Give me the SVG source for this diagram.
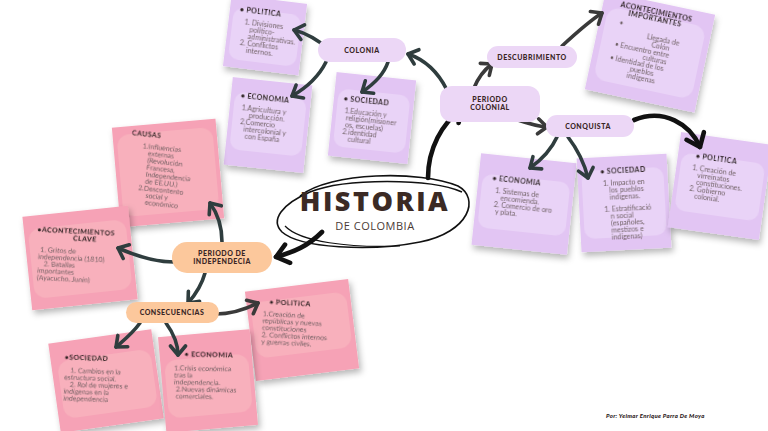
<svg xmlns="http://www.w3.org/2000/svg" width="768" height="431" viewBox="0 0 768 431">
<defs>
<filter id="sh" x="-30%" y="-30%" width="160%" height="160%"><feDropShadow dx="2" dy="4" stdDeviation="3" flood-color="#000" flood-opacity="0.28"/></filter>
<marker id="ag" markerUnits="userSpaceOnUse" markerWidth="20" markerHeight="20" refX="12" refY="10" orient="auto"><path d="M3,2.5 L12,10 L3,17.5" fill="none" stroke="#2f3d3e" stroke-width="3.6" stroke-linecap="round" stroke-linejoin="round"/></marker>
<marker id="ab" markerUnits="userSpaceOnUse" markerWidth="24" markerHeight="24" refX="15" refY="12" orient="auto"><path d="M3,2.5 L15,12 L3,21.5" fill="none" stroke="#111" stroke-width="4.6" stroke-linecap="round" stroke-linejoin="round"/></marker>
<marker id="ad" markerUnits="userSpaceOnUse" markerWidth="20" markerHeight="20" refX="12" refY="10" orient="auto"><path d="M3,2.5 L12,10 L3,17.5" fill="none" stroke="#3a3a3a" stroke-width="3.6" stroke-linecap="round" stroke-linejoin="round"/></marker>
</defs>
<style>
.np{fill:#e2c5f3}.ni{fill:#e9d3f7}
.nk{fill:#f6a2b6}.nki{fill:#f8b0bc}
.pp{fill:#ecd7f6}.po{fill:#fcc89c}
.h{font-family:"Lato","DejaVu Sans",sans-serif;font-weight:900;font-size:7px;fill:#2e2222;letter-spacing:0.4px}
.b{font-family:"Lato","DejaVu Sans",sans-serif;font-size:7px;fill:#6b5c5e}
.pl{font-family:"Lato","DejaVu Sans",sans-serif;font-weight:900;font-size:7px;fill:#3a2626;letter-spacing:0.5px;text-anchor:middle}
.c{fill:none;stroke:#2f3d3e;stroke-width:3.6;stroke-linecap:round}
.cb{fill:none;stroke:#111;stroke-width:4.6;stroke-linecap:round}
.cd{fill:none;stroke:#3a3a3a;stroke-width:3.6;stroke-linecap:round}
</style>
<rect width="768" height="431" fill="#ffffff"/>

<g id="note-politica-colonia" transform="translate(265,35) rotate(7)" filter="url(#sh)">
<rect class="np" x="-38" y="-36" width="76" height="72"/><rect class="ni" x="-34" y="-24" width="68" height="52" rx="10"/>
<text class="h" x="-28" y="-20">• POLITICA</text>
<text class="b" x="-22" y="-8">1. Divisiones</text><text class="b" x="-16" y="-1">político-</text><text class="b" x="-17" y="6">administrativas.</text><text class="b" x="-24" y="13">2. Conflictos</text><text class="b" x="-17" y="20">internos.</text>
</g>

<g id="note-economia-colonia" transform="translate(268,125) rotate(6)" filter="url(#sh)">
<rect class="np" x="-40" y="-44" width="80" height="88"/><rect class="ni" x="-36" y="-30" width="72" height="58" rx="10"/>
<text class="h" x="-30" y="-24">• ECONOMIA</text>
<text class="b" x="-28" y="-12">1.Agricultura y</text><text class="b" x="-20" y="-5">producción.</text><text class="b" x="-28" y="2">2.Comercio</text><text class="b" x="-24" y="9">intercolonial y</text><text class="b" x="-22" y="16">con España</text>
</g>

<g id="note-sociedad-colonia" transform="translate(372,118) rotate(6)" filter="url(#sh)">
<rect class="np" x="-40" y="-42" width="80" height="84"/><rect class="ni" x="-36" y="-26" width="72" height="58" rx="10"/>
<text class="h" x="-30" y="-14">• SOCIEDAD</text>
<text class="b" x="-28" y="-2">1.Educación y</text><text class="b" x="-26" y="5">religión(misioner</text><text class="b" x="-26" y="12">os, escuelas)</text><text class="b" x="-28" y="19">2.identidad</text><text class="b" x="-22" y="26">cultural</text>
</g>

<g id="note-acontecimientos-importantes" transform="translate(650,52) rotate(12)" filter="url(#sh)">
<rect class="np" x="-56" y="-50" width="112" height="100"/><rect class="ni" x="-50" y="-36" width="100" height="74" rx="12"/>
<text class="h" x="-2" y="-38" text-anchor="middle">ACONTECIMIENTOS</text><text class="h" x="-2" y="-31" text-anchor="middle">IMPORTANTES</text>
<text class="b" x="-36" y="-20">•</text><text class="b" x="-6" y="-12">Llegada de</text><text class="b" x="0" y="-5">Colón</text>
<text class="b" x="-36" y="2">• Encuentro entre</text><text class="b" x="-6" y="9">culturas</text>
<text class="b" x="-38" y="16">• Identidad de los</text><text class="b" x="-16" y="23">pueblos</text><text class="b" x="-18" y="30">indígenas</text>
</g>

<g id="note-economia-conquista" transform="translate(524,204) rotate(6)" filter="url(#sh)">
<rect class="np" x="-48" y="-46" width="96" height="92"/><rect class="ni" x="-44" y="-26" width="88" height="54" rx="10"/>
<text class="h" x="-34" y="-20">• ECONOMIA</text>
<text class="b" x="-30" y="-8">1. Sistemas de</text><text class="b" x="-24" y="-1">encomienda.</text><text class="b" x="-30" y="6">2. Comercio de oro</text><text class="b" x="-28" y="13">y plata.</text>
</g>

<g id="note-sociedad-conquista" transform="translate(624,203) rotate(-3)" filter="url(#sh)">
<rect class="np" x="-45" y="-47" width="90" height="94"/><rect class="ni" x="-41" y="-34" width="82" height="68" rx="10"/>
<text class="h" x="-22" y="-30">• SOCIEDAD</text>
<text class="b" x="-20" y="-18">1. Impacto en</text><text class="b" x="-14" y="-11">los pueblos</text><text class="b" x="-14" y="-4">indígenas.</text>
<text class="b" x="-20" y="8">1. Estratificació</text><text class="b" x="-14" y="15">n social</text><text class="b" x="-14" y="22">(españoles,</text><text class="b" x="-14" y="29">mestizos e</text><text class="b" x="-14" y="36">indígenas)</text>
</g>

<g id="note-politica-conquista" transform="translate(720,186) rotate(8)" filter="url(#sh)">
<rect class="np" x="-46" y="-48" width="92" height="96"/><rect class="ni" x="-42" y="-28" width="84" height="58" rx="10"/>
<text class="h" x="-28" y="-24">• POLITICA</text>
<text class="b" x="-30" y="-12">1. Creación de</text><text class="b" x="-24" y="-5">virreinatos</text><text class="b" x="-24" y="2">constituciones.</text><text class="b" x="-30" y="9">2. Gobierno</text><text class="b" x="-24" y="16">colonial.</text>
</g>

<g id="note-causas" transform="translate(168,173) rotate(-5)" filter="url(#sh)">
<rect class="nk" x="-52" y="-50" width="104" height="100"/><rect class="nki" x="-48" y="-42" width="96" height="82" rx="12"/>
<g transform="rotate(11)">
<text class="h" x="-40" y="-34">CAUSAS</text>
<text class="b" x="-28" y="-22">1.Influencias</text><text class="b" x="-22" y="-15">externas</text><text class="b" x="-22" y="-8">(Revolución</text><text class="b" x="-22" y="-1">Francesa,</text><text class="b" x="-22" y="6">Independencia</text><text class="b" x="-22" y="13">de EE.UU.)</text><text class="b" x="-28" y="20">2.Descontento</text><text class="b" x="-20" y="27">social y</text><text class="b" x="-20" y="34">económico</text>
</g>
</g>

<g id="note-acontecimientos-clave" transform="translate(80,258) rotate(-6)" filter="url(#sh)">
<rect class="nk" x="-53" y="-47" width="106" height="94"/><rect class="nki" x="-49" y="-34" width="98" height="70" rx="12"/>
<g transform="rotate(9)">
<text class="h" x="-44" y="-24">•ACONTECIMIENTOS</text><text class="h" x="-8" y="-17">CLAVE</text>
<text class="b" x="-40" y="-4">1. Gritos de</text><text class="b" x="-42" y="3">independencia (1810)</text><text class="b" x="-36" y="10">2. Batallas</text><text class="b" x="-42" y="17">importantes</text><text class="b" x="-42" y="24">(Ayacucho, Junín)</text>
</g>
</g>

<g id="note-politica-independencia" transform="translate(302,330) rotate(-7)" filter="url(#sh)">
<rect class="nk" x="-52" y="-45" width="104" height="90"/><rect class="nki" x="-48" y="-33" width="96" height="56" rx="12"/>
<g transform="rotate(10)">
<text class="h" x="-34" y="-24">• POLITICA</text>
<text class="b" x="-40" y="-12">1.Creación de</text><text class="b" x="-40" y="-5">repúblicas y nuevas</text><text class="b" x="-40" y="2">constituciones</text><text class="b" x="-40" y="9">2. Conflictos internos</text><text class="b" x="-40" y="16">y guerras civiles.</text>
</g>
</g>

<g id="note-sociedad-independencia" transform="translate(106,381) rotate(-8)" filter="url(#sh)">
<rect class="nk" x="-52" y="-45" width="104" height="90"/><rect class="nki" x="-46" y="-26" width="94" height="58" rx="12"/>
<g transform="rotate(10)">
<text class="h" x="-42" y="-20">•SOCIEDAD</text>
<text class="b" x="-36" y="-7">1. Cambios en la</text><text class="b" x="-42" y="0">estructura social.</text><text class="b" x="-36" y="7">2. Rol de mujeres e</text><text class="b" x="-42" y="14">indígenas en la</text><text class="b" x="-42" y="21">independencia</text>
</g>
</g>

<g id="note-economia-independencia" transform="translate(208,381) rotate(-5)" filter="url(#sh)">
<rect class="nk" x="-46" y="-48" width="92" height="96"/><rect class="nki" x="-42" y="-24" width="84" height="58" rx="12"/>
<g transform="rotate(6)">
<text class="h" x="-24" y="-24">• ECONOMIA</text>
<text class="b" x="-34" y="-10">1.Crisis económica</text><text class="b" x="-34" y="-3">tras la</text><text class="b" x="-34" y="4">independencia.</text><text class="b" x="-32" y="11">2.Nuevas dinámicas</text><text class="b" x="-32" y="18">comerciales.</text>
</g>
</g>

<g id="connectors">
<path class="cb" d="M428,178 C428,148 442,124 462,108" marker-end="url(#ab)"/>
<path class="c" d="M447,90 C438,72 426,60 408,54" marker-end="url(#ag)"/>
<path class="cd" d="M474,88 C478,78 484,70 492,64" marker-end="url(#ad)"/>
<path class="cd" d="M562,46 C575,34 588,22 602,13" marker-end="url(#ad)"/>
<path class="cd" d="M512,118 C524,122 534,126 547,127" marker-end="url(#ad)"/>
<path class="cb" d="M634,120 C664,108 690,124 700,147" marker-end="url(#ab)"/>
<path class="c" d="M557,137 C552,148 544,158 530,168" marker-end="url(#ag)"/>
<path class="c" d="M568,137 C578,150 584,162 588,178" marker-end="url(#ag)"/>
<path class="c" d="M330,50 C318,40 306,33 294,30" marker-end="url(#ag)"/>
<path class="c" d="M326,62 C318,78 306,88 292,96" marker-end="url(#ag)"/>
<path class="c" d="M388,62 C384,74 374,84 362,92" marker-end="url(#ag)"/>
<path class="cb" d="M322,232 C308,246 294,252 276,257" marker-end="url(#ab)"/>
<path class="c" d="M222,242 C222,228 218,214 210,203" marker-end="url(#ag)"/>
<path class="c" d="M174,262 C158,262 136,256 118,248" marker-end="url(#ag)"/>
<path class="c" d="M205,273 C202,284 196,294 188,303" marker-end="url(#ag)"/>
<path class="cd" d="M216,314 C230,314 244,310 258,303" marker-end="url(#ad)"/>
<path class="c" d="M140,323 C132,334 124,340 116,347" marker-end="url(#ag)"/>
<path class="c" d="M166,323 C174,334 178,344 178,355" marker-end="url(#ag)"/>
</g>

<g id="pill-colonia"><rect class="pp" x="318" y="38" width="88" height="24" rx="12"/><text class="pl" x="362" y="52.5">COLONIA</text></g>
<g id="pill-periodo-colonial"><rect class="pp" x="440" y="86" width="100" height="36" rx="12"/><text class="pl" x="490" y="102">PERIODO</text><text class="pl" x="490" y="110">COLONIAL</text></g>
<g id="pill-descubrimiento"><rect class="pp" x="487" y="46" width="90" height="22" rx="11"/><text class="pl" x="532" y="59.5">DESCUBRIMIENTO</text></g>
<g id="pill-conquista"><rect class="pp" x="546" y="115" width="88" height="22" rx="11"/><text class="pl" x="588" y="128.5">CONQUISTA</text></g>
<g id="pill-independencia"><rect class="po" x="172" y="242" width="100" height="31" rx="15"/><text class="pl" x="222" y="256">PERIODO DE</text><text class="pl" x="222" y="264">INDEPENDECIA</text></g>
<g id="pill-consecuencias"><rect class="po" x="126" y="302" width="93" height="21" rx="10.5"/><text class="pl" x="172" y="315">CONSECUENCIAS</text></g>

<g id="title">
<path d="M300,196 C330,172 420,170 458,186 C480,198 470,232 420,242 C370,252 300,248 282,232 C270,220 282,204 310,192 C345,178 430,178 462,192" fill="none" stroke="#111" stroke-width="1.6"/>
<path d="M285,226 C300,242 350,248 400,246" fill="none" stroke="#111" stroke-width="1.2"/>
<text x="375" y="211" text-anchor="middle" font-family="'Open Sans','DejaVu Sans',sans-serif" font-weight="800" font-size="27" letter-spacing="2.5" fill="#3b2a24">HISTORIA</text>
<text x="375" y="230" text-anchor="middle" font-family="'Open Sans','DejaVu Sans',sans-serif" font-size="11" letter-spacing="0.5" fill="#4a3a36">DE COLOMBIA</text>
</g>

<text id="author" x="606" y="418" font-family="'Lato','DejaVu Sans',sans-serif" font-weight="900" font-style="italic" font-size="6" letter-spacing="0.3" fill="#2e2222">Por: Yeimar Enrique Parra De Moya</text>
</svg>
